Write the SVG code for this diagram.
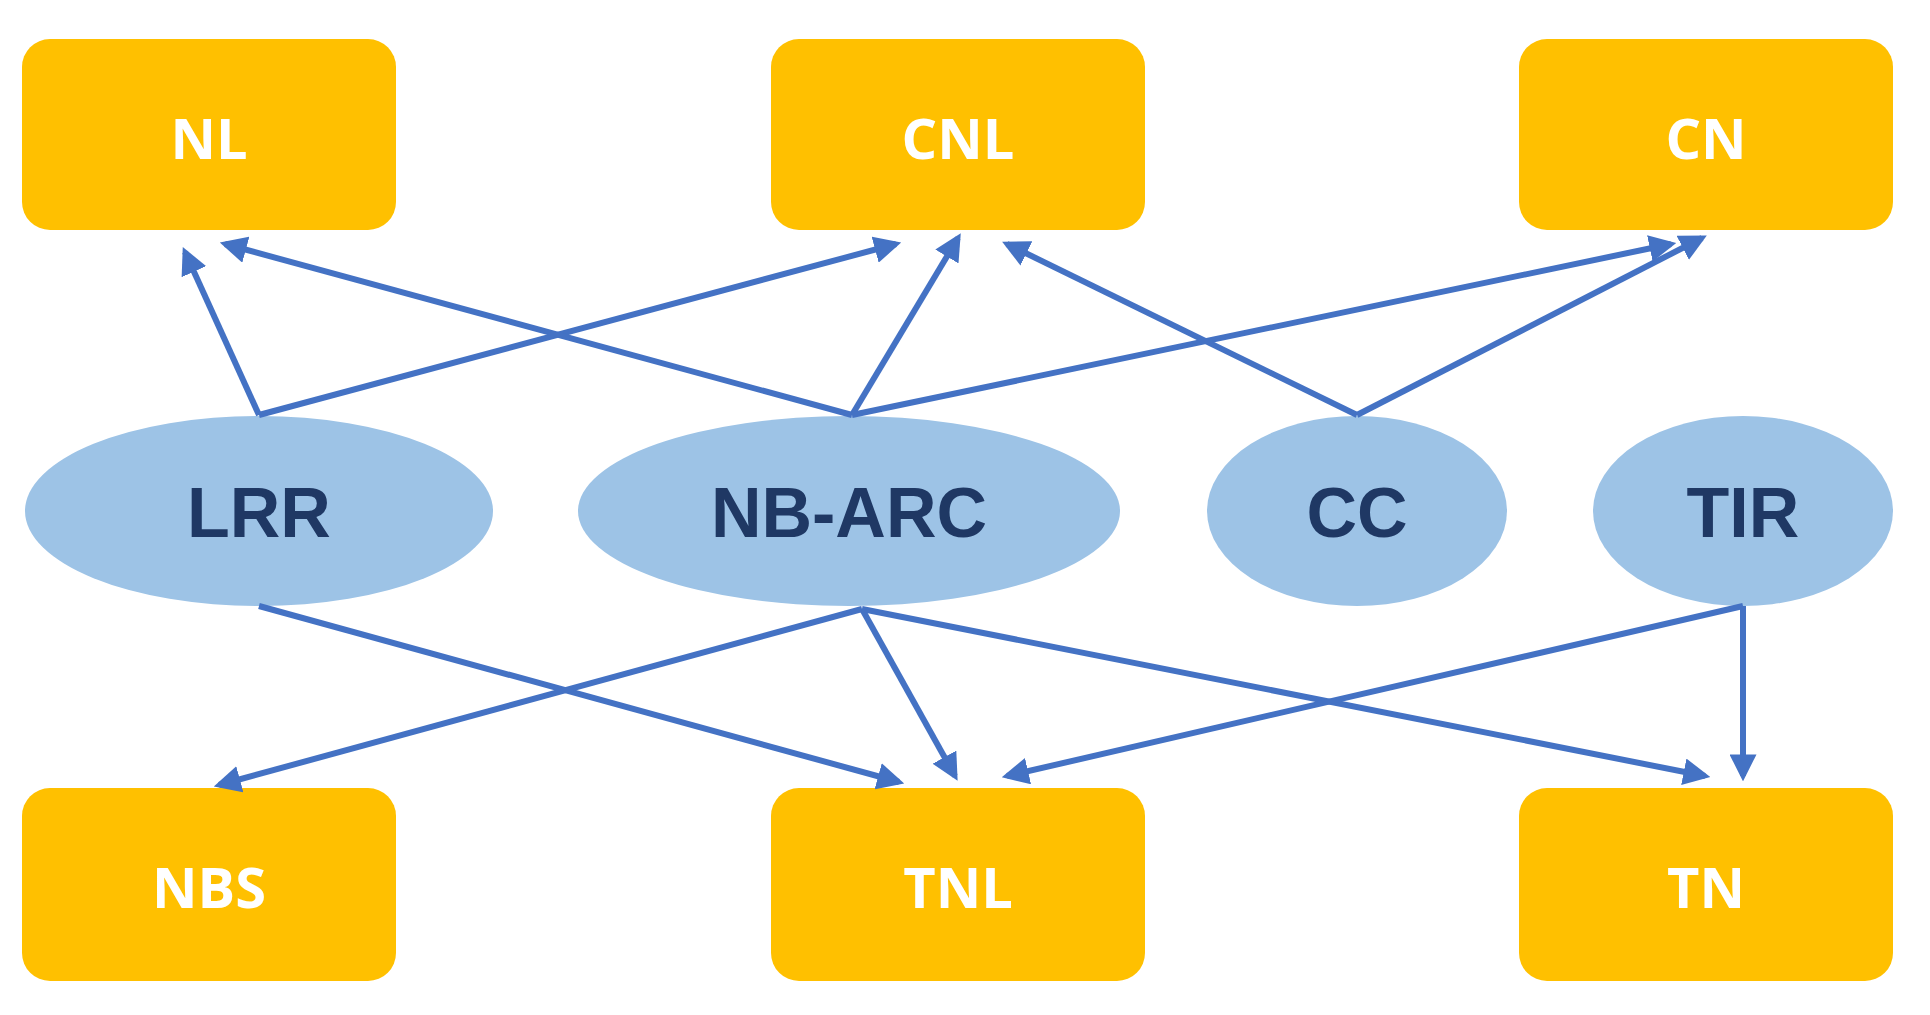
<svg xmlns="http://www.w3.org/2000/svg" width="1930" height="1015" viewBox="0 0 1930 1015">
<style>
.box{fill:#FFC000}
.ell{fill:#9DC3E6}
.bt{fill:#fff;font-family:"Open Sans",sans-serif;font-weight:bold;font-size:56px;text-anchor:middle;dominant-baseline:central}
.et{fill:#1F3864;font-family:"Liberation Sans",sans-serif;font-weight:bold;font-size:70px;text-anchor:middle;dominant-baseline:central}
.c line{stroke:#4472C4;stroke-width:6;marker-end:url(#a)}
</style>
<defs><marker id="a" viewBox="0 0 10 10" refX="8" refY="5" markerWidth="4.5" markerHeight="4.5" orient="auto"><path d="M0,0L10,5L0,10z" fill="#4472C4"/></marker></defs>
<rect width="1930" height="1015" fill="#fff"/>
<g id="NL"><rect class="box" x="22" y="39" width="374" height="191" rx="28"/><text class="bt" x="209" y="137">NL</text></g>
<g id="CNL"><rect class="box" x="771" y="39" width="374" height="191" rx="28"/><text class="bt" x="958" y="137">CNL</text></g>
<g id="CN"><rect class="box" x="1519" y="39" width="374" height="191" rx="28"/><text class="bt" x="1706" y="137">CN</text></g>
<g id="NBS"><rect class="box" x="22" y="788" width="374" height="193" rx="28"/><text class="bt" x="209" y="886">NBS</text></g>
<g id="TNL"><rect class="box" x="771" y="788" width="374" height="193" rx="28"/><text class="bt" x="958" y="886">TNL</text></g>
<g id="TN"><rect class="box" x="1519" y="788" width="374" height="193" rx="28"/><text class="bt" x="1706" y="886">TN</text></g>
<g id="LRR"><ellipse class="ell" cx="259" cy="511" rx="234" ry="95"/><text class="et" x="259" y="513">LRR</text></g>
<g id="NB-ARC"><ellipse class="ell" cx="849" cy="511" rx="271" ry="95"/><text class="et" x="849" y="513">NB-ARC</text></g>
<g id="CC"><ellipse class="ell" cx="1357" cy="511" rx="150" ry="95"/><text class="et" x="1357" y="513">CC</text></g>
<g id="TIR"><ellipse class="ell" cx="1743" cy="511" rx="150" ry="95"/><text class="et" x="1743" y="513">TIR</text></g>
<g id="connectors" class="c">
<line x1="259" y1="415" x2="185" y2="252"/>
<line x1="259" y1="415" x2="896" y2="244"/>
<line x1="852" y1="415" x2="225" y2="244"/>
<line x1="852" y1="415" x2="958" y2="238"/>
<line x1="852" y1="415" x2="1671" y2="244"/>
<line x1="1357" y1="415" x2="1007" y2="244"/>
<line x1="1357" y1="415" x2="1702" y2="238"/>
<line x1="259" y1="606" x2="899" y2="782"/>
<line x1="862" y1="609" x2="219" y2="785"/>
<line x1="862" y1="609" x2="955" y2="776"/>
<line x1="862" y1="609" x2="1705" y2="776"/>
<line x1="1743" y1="606" x2="1007" y2="776"/>
<line x1="1743" y1="606" x2="1743" y2="776"/>
</g>
</svg>
